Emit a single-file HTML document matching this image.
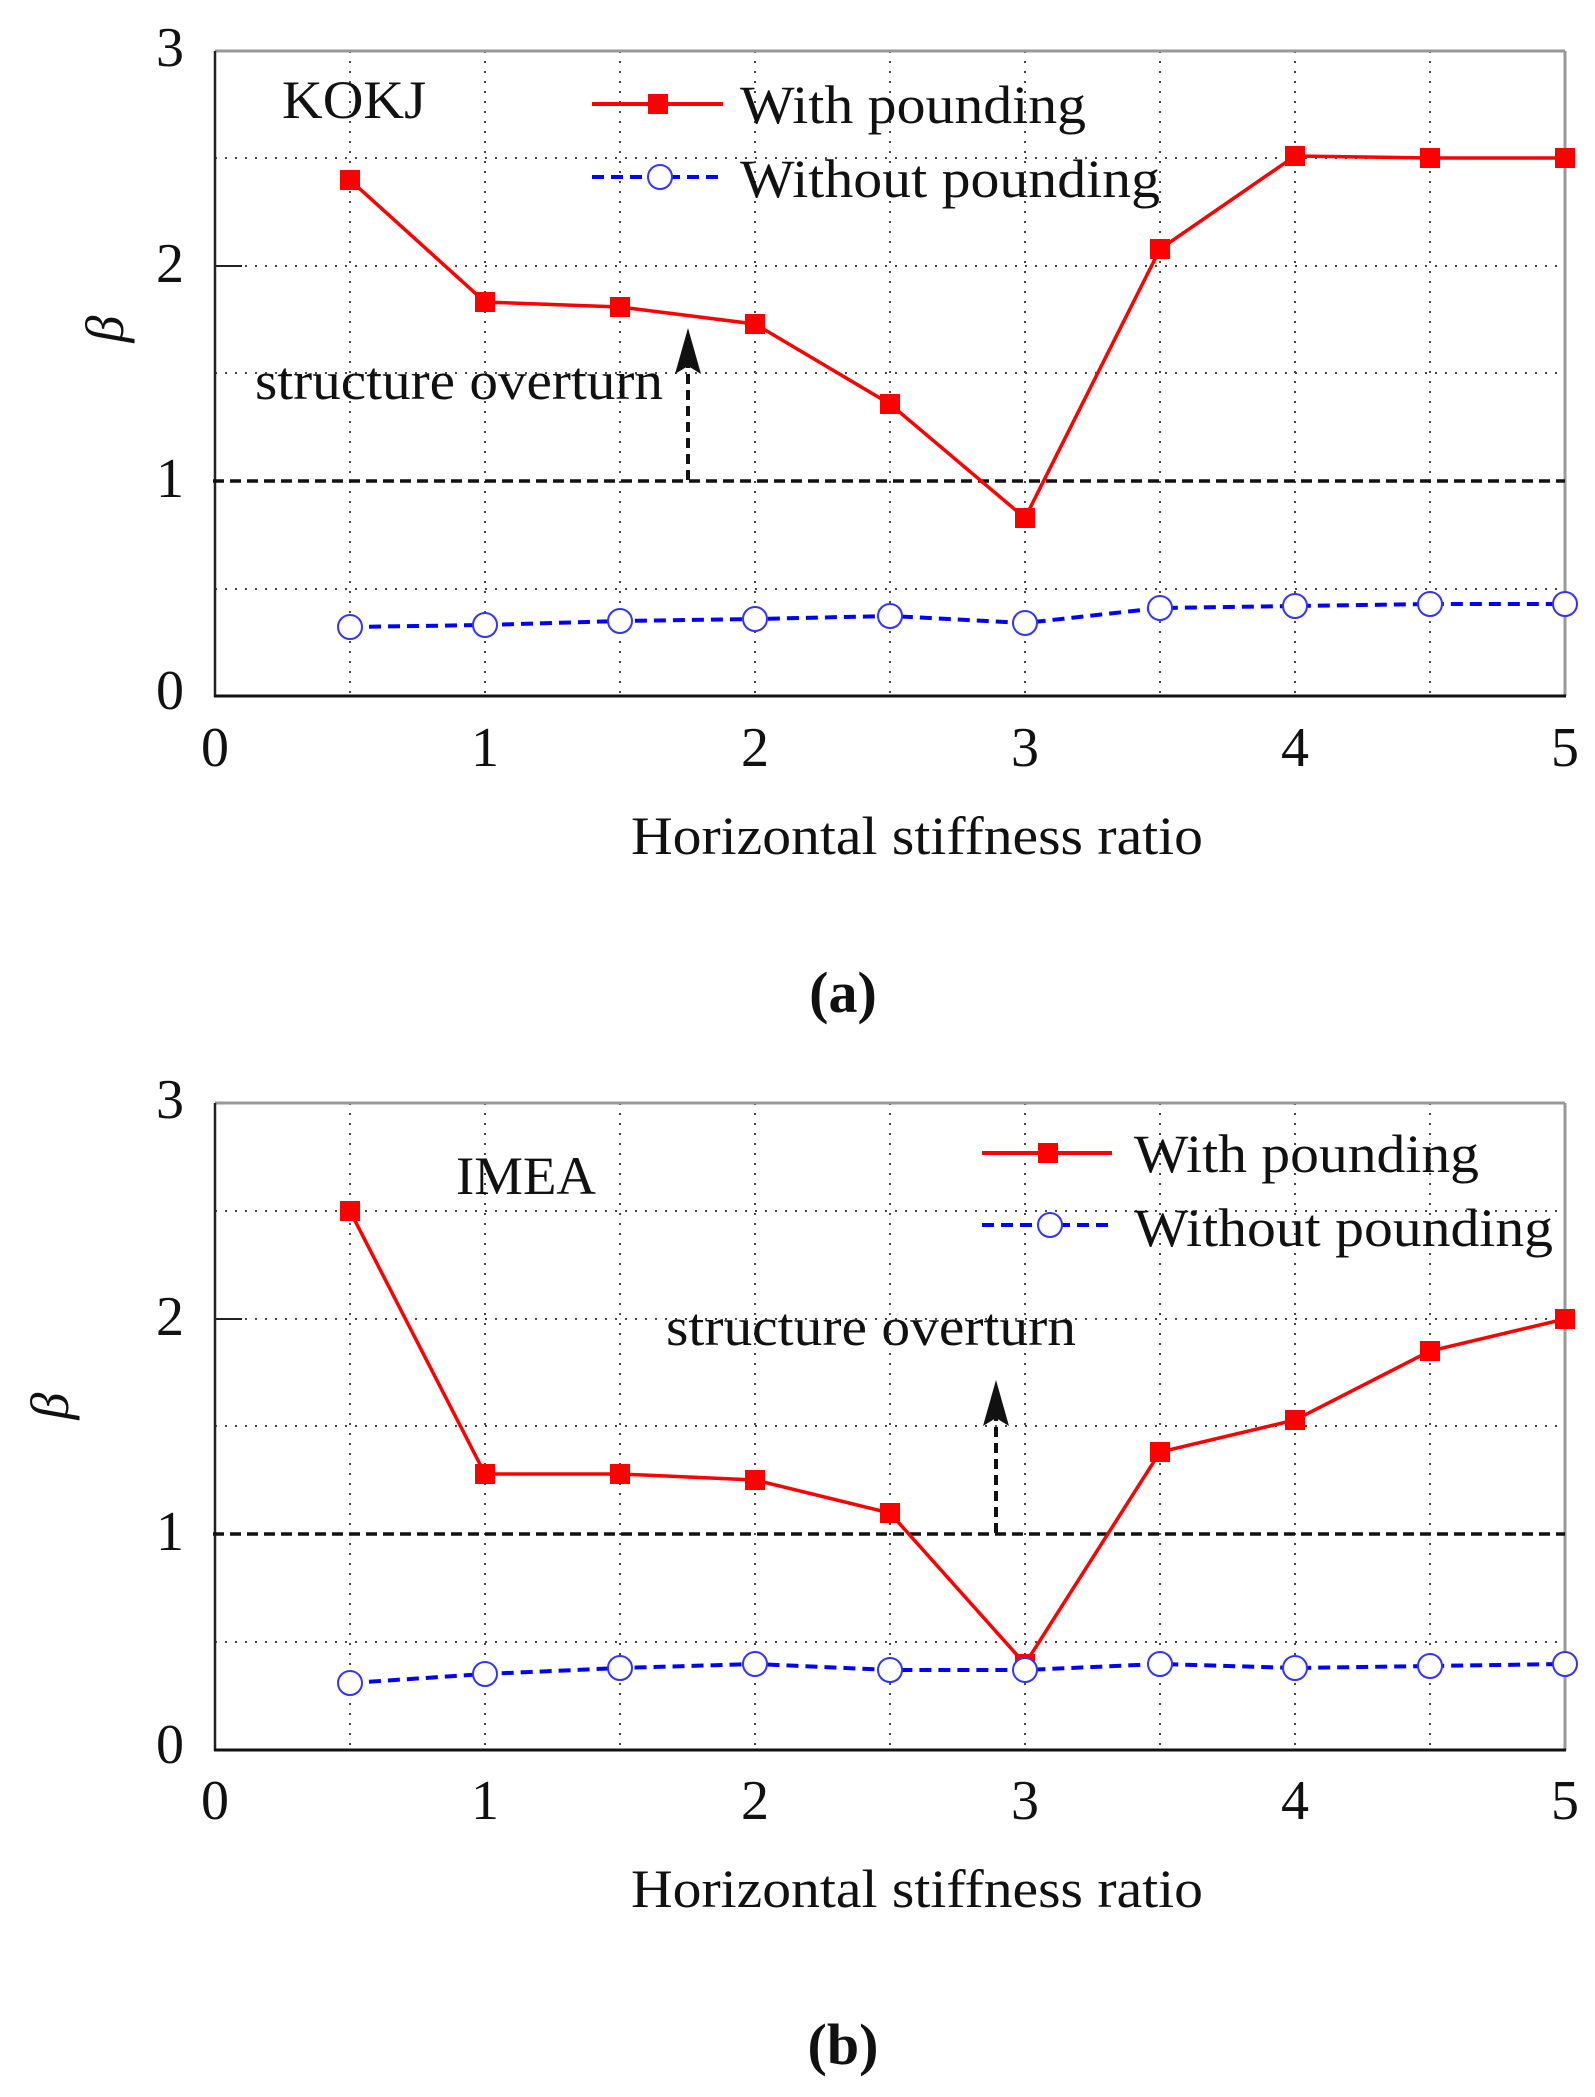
<!DOCTYPE html>
<html><head><meta charset="utf-8"><style>html,body{margin:0;padding:0;background:#fff}svg{display:block}</style></head><body>
<svg width="1595" height="2097" viewBox="0 0 1595 2097" xmlns="http://www.w3.org/2000/svg" font-family="'Liberation Serif', serif">
<rect width="1595" height="2097" fill="#fff"/>
<!-- ========== Plot (a) ========== -->
<g>
<g stroke="#444" stroke-width="2" stroke-dasharray="2,8" fill="none">
<line x1="350" y1="51" x2="350" y2="696"/><line x1="485" y1="51" x2="485" y2="696"/><line x1="620" y1="51" x2="620" y2="696"/><line x1="755" y1="51" x2="755" y2="696"/><line x1="890" y1="51" x2="890" y2="696"/><line x1="1025" y1="51" x2="1025" y2="696"/><line x1="1160" y1="51" x2="1160" y2="696"/><line x1="1295" y1="51" x2="1295" y2="696"/><line x1="1430" y1="51" x2="1430" y2="696"/>
<line x1="215" y1="158" x2="1565" y2="158"/><line x1="215" y1="266" x2="1565" y2="266"/><line x1="215" y1="373" x2="1565" y2="373"/><line x1="215" y1="589" x2="1565" y2="589"/>
</g>
<line x1="215" y1="51" x2="1565" y2="51" stroke="#999" stroke-width="3"/>
<line x1="1565" y1="51" x2="1565" y2="696" stroke="#999" stroke-width="3"/>
<line x1="215" y1="51" x2="215" y2="697" stroke="#222" stroke-width="2.5"/>
<line x1="214" y1="696" x2="1566" y2="696" stroke="#111" stroke-width="3"/>
<line x1="215" y1="266" x2="242" y2="266" stroke="#222" stroke-width="2"/>
<line x1="213" y1="481" x2="1565" y2="481" stroke="#111" stroke-width="3.5" stroke-dasharray="11,6"/>
<line x1="688" y1="480" x2="688" y2="365" stroke="#111" stroke-width="4" stroke-dasharray="10,6"/>
<polygon points="688,328 675,374 688,366 701,374" fill="#111"/>
<polyline points="350,180 485,302 620,307 755,324 890,404 1025,518 1160,249 1295,156 1430,158 1565,158" fill="none" stroke="#f00" stroke-width="3.5"/>
<g fill="#f00">
<rect x="340" y="170" width="20" height="20"/><rect x="475" y="292" width="20" height="20"/><rect x="610" y="297" width="20" height="20"/><rect x="745" y="314" width="20" height="20"/><rect x="880" y="394" width="20" height="20"/><rect x="1015" y="508" width="20" height="20"/><rect x="1150" y="239" width="20" height="20"/><rect x="1285" y="146" width="20" height="20"/><rect x="1420" y="148" width="20" height="20"/><rect x="1555" y="148" width="20" height="20"/>
</g>
<polyline points="350,627 485,625 620,621 755,619 890,616 1025,623 1160,608 1295,606 1430,604 1565,604" fill="none" stroke="#00f" stroke-width="4" stroke-dasharray="12,7"/>
<g fill="#fff" stroke="#33f" stroke-width="2">
<circle cx="350" cy="627" r="12"/><circle cx="485" cy="625" r="12"/><circle cx="620" cy="621" r="12"/><circle cx="755" cy="619" r="12"/><circle cx="890" cy="616" r="12"/><circle cx="1025" cy="623" r="12"/><circle cx="1160" cy="608" r="12"/><circle cx="1295" cy="606" r="12"/><circle cx="1430" cy="604" r="12"/><circle cx="1565" cy="604" r="12"/>
</g>
<line x1="592" y1="104" x2="723" y2="104" stroke="#f00" stroke-width="4"/>
<rect x="648" y="94" width="20" height="20" fill="#f00"/>
<line x1="592" y1="177" x2="723" y2="177" stroke="#00f" stroke-width="4" stroke-dasharray="12,7"/>
<circle cx="660" cy="177" r="12" fill="#fff" stroke="#33f" stroke-width="2"/>
<g font-size="54" fill="#111">
<text x="740" y="123" textLength="346" lengthAdjust="spacingAndGlyphs">With pounding</text>
<text x="740" y="197" textLength="420" lengthAdjust="spacingAndGlyphs">Without pounding</text>
<text x="282" y="118" textLength="144" lengthAdjust="spacingAndGlyphs">KOKJ</text>
<text x="255" y="399" textLength="408" lengthAdjust="spacingAndGlyphs">structure overturn</text>
</g>
<g font-size="56" fill="#111" text-anchor="middle">
<text x="170" y="66">3</text><text x="170" y="282">2</text><text x="170" y="497">1</text><text x="170" y="709">0</text>
<text x="215" y="766">0</text><text x="485" y="766">1</text><text x="755" y="766">2</text><text x="1025" y="766">3</text><text x="1295" y="766">4</text><text x="1565" y="766">5</text>
</g>
<text x="631" y="854" font-size="54" fill="#111" textLength="572" lengthAdjust="spacingAndGlyphs">Horizontal stiffness ratio</text>
<text transform="translate(123,329) rotate(-90)" font-size="54" font-style="italic" text-anchor="middle" fill="#111">β</text>
<text x="843" y="1012" font-size="58" font-weight="bold" text-anchor="middle" fill="#111">(a)</text>
</g>
<!-- ========== Plot (b) ========== -->
<g>
<g stroke="#444" stroke-width="2" stroke-dasharray="2,8" fill="none">
<line x1="350" y1="1103" x2="350" y2="1750"/><line x1="485" y1="1103" x2="485" y2="1750"/><line x1="620" y1="1103" x2="620" y2="1750"/><line x1="755" y1="1103" x2="755" y2="1750"/><line x1="890" y1="1103" x2="890" y2="1750"/><line x1="1025" y1="1103" x2="1025" y2="1750"/><line x1="1160" y1="1103" x2="1160" y2="1750"/><line x1="1295" y1="1103" x2="1295" y2="1750"/><line x1="1430" y1="1103" x2="1430" y2="1750"/>
<line x1="215" y1="1211" x2="1565" y2="1211"/><line x1="215" y1="1319" x2="1565" y2="1319"/><line x1="215" y1="1426" x2="1565" y2="1426"/><line x1="215" y1="1642" x2="1565" y2="1642"/>
</g>
<line x1="215" y1="1103" x2="1565" y2="1103" stroke="#999" stroke-width="3"/>
<line x1="1565" y1="1103" x2="1565" y2="1750" stroke="#999" stroke-width="3"/>
<line x1="215" y1="1103" x2="215" y2="1751" stroke="#222" stroke-width="2.5"/>
<line x1="214" y1="1750" x2="1566" y2="1750" stroke="#111" stroke-width="3"/>
<line x1="215" y1="1319" x2="242" y2="1319" stroke="#222" stroke-width="2"/>
<line x1="213" y1="1534" x2="1565" y2="1534" stroke="#111" stroke-width="3.5" stroke-dasharray="11,6"/>
<line x1="996" y1="1533" x2="996" y2="1418" stroke="#111" stroke-width="4" stroke-dasharray="10,6"/>
<polygon points="996,1380 983,1426 996,1418 1009,1426" fill="#111"/>
<polyline points="350,1211 485,1474 620,1474 755,1480 890,1513 1025,1664 1160,1452 1295,1420 1430,1351 1565,1319" fill="none" stroke="#f00" stroke-width="3.5"/>
<g fill="#f00">
<rect x="340" y="1201" width="20" height="20"/><rect x="475" y="1464" width="20" height="20"/><rect x="610" y="1464" width="20" height="20"/><rect x="745" y="1470" width="20" height="20"/><rect x="880" y="1503" width="20" height="20"/><rect x="1015" y="1654" width="20" height="20"/><rect x="1150" y="1442" width="20" height="20"/><rect x="1285" y="1410" width="20" height="20"/><rect x="1420" y="1341" width="20" height="20"/><rect x="1555" y="1309" width="20" height="20"/>
</g>
<polyline points="350,1683 485,1674 620,1668 755,1664 890,1670 1025,1670 1160,1664 1295,1668 1430,1666 1565,1664" fill="none" stroke="#00f" stroke-width="4" stroke-dasharray="12,7"/>
<g fill="#fff" stroke="#33f" stroke-width="2">
<circle cx="350" cy="1683" r="12"/><circle cx="485" cy="1674" r="12"/><circle cx="620" cy="1668" r="12"/><circle cx="755" cy="1664" r="12"/><circle cx="890" cy="1670" r="12"/><circle cx="1025" cy="1670" r="12"/><circle cx="1160" cy="1664" r="12"/><circle cx="1295" cy="1668" r="12"/><circle cx="1430" cy="1666" r="12"/><circle cx="1565" cy="1664" r="12"/>
</g>
<line x1="982" y1="1153" x2="1112" y2="1153" stroke="#f00" stroke-width="4"/>
<rect x="1038" y="1143" width="20" height="20" fill="#f00"/>
<line x1="982" y1="1225" x2="1112" y2="1225" stroke="#00f" stroke-width="4" stroke-dasharray="12,7"/>
<circle cx="1050" cy="1225" r="12" fill="#fff" stroke="#33f" stroke-width="2"/>
<g font-size="54" fill="#111">
<text x="1134" y="1172" textLength="345" lengthAdjust="spacingAndGlyphs">With pounding</text>
<text x="1134" y="1246" textLength="419" lengthAdjust="spacingAndGlyphs">Without pounding</text>
<text x="456" y="1194" textLength="140" lengthAdjust="spacingAndGlyphs">IMEA</text>
<text x="666" y="1345" textLength="410" lengthAdjust="spacingAndGlyphs">structure overturn</text>
</g>
<g font-size="56" fill="#111" text-anchor="middle">
<text x="170" y="1118">3</text><text x="170" y="1335">2</text><text x="170" y="1550">1</text><text x="170" y="1763">0</text>
<text x="215" y="1819">0</text><text x="485" y="1819">1</text><text x="755" y="1819">2</text><text x="1025" y="1819">3</text><text x="1295" y="1819">4</text><text x="1565" y="1819">5</text>
</g>
<text x="631" y="1907" font-size="54" fill="#111" textLength="572" lengthAdjust="spacingAndGlyphs">Horizontal stiffness ratio</text>
<text transform="translate(68,1406) rotate(-90)" font-size="54" font-style="italic" text-anchor="middle" fill="#111">β</text>
<text x="843" y="2064" font-size="58" font-weight="bold" text-anchor="middle" fill="#111">(b)</text>
</g>
</svg>
</body></html>
